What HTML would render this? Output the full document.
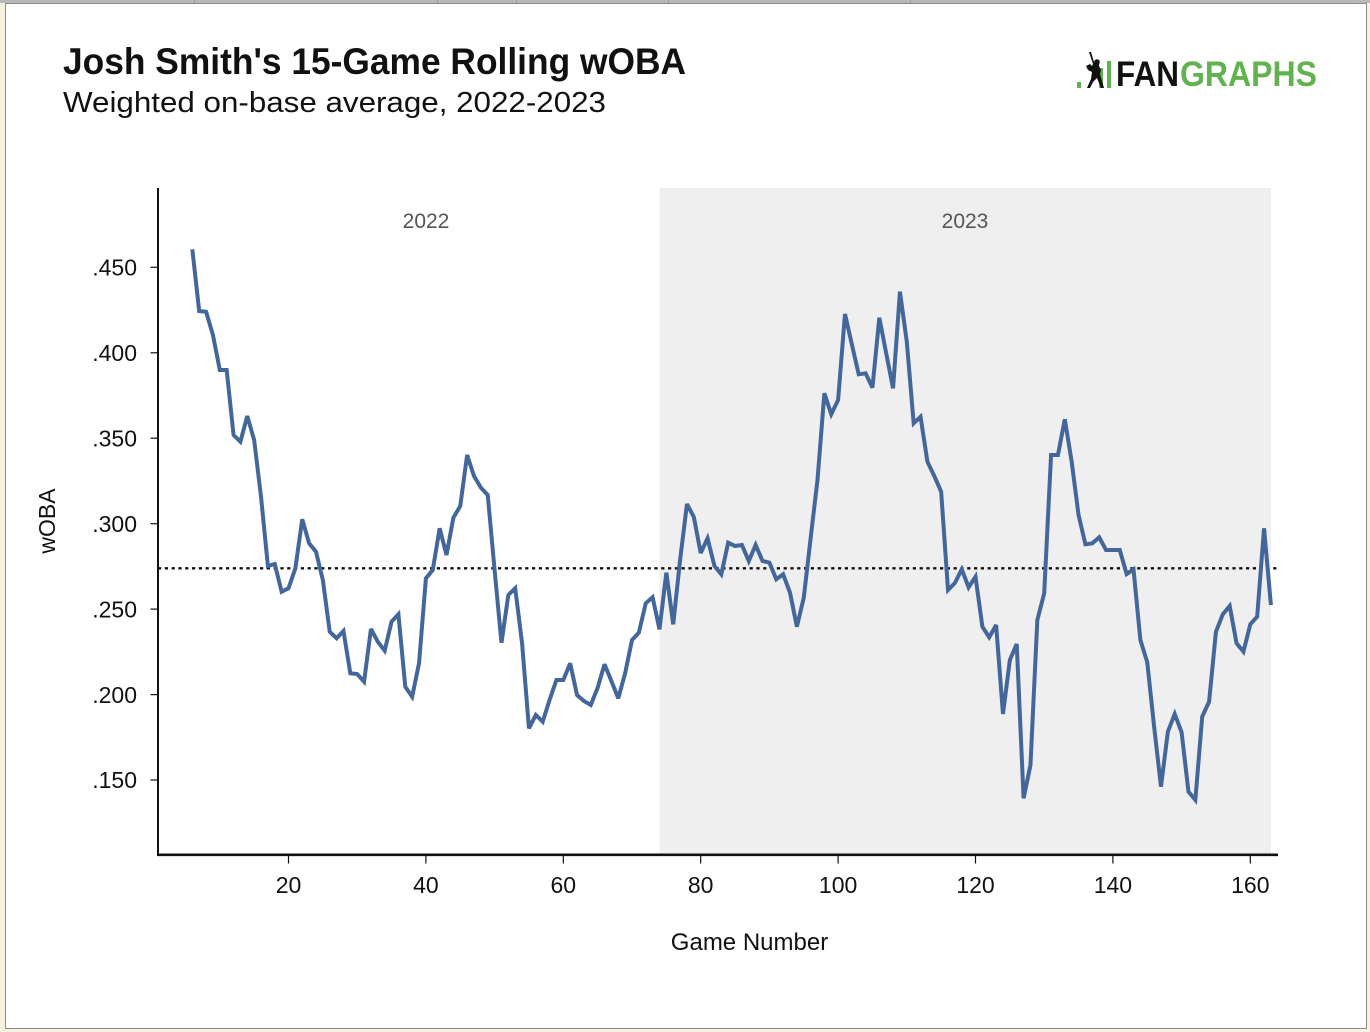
<!DOCTYPE html>
<html><head><meta charset="utf-8">
<style>
html,body{margin:0;padding:0;background:#f6f4de;}
svg{display:block;}
</style></head>
<body>
<svg width="1370" height="1032" viewBox="0 0 1370 1032" xmlns="http://www.w3.org/2000/svg" font-family="'Liberation Sans', sans-serif">
<rect x="0" y="0" width="1370" height="1032" fill="#f6f4de"/>
<rect x="0" y="0" width="1370" height="3" fill="#b8b8b8"/>
<rect x="5.5" y="3.5" width="1361" height="1025" fill="#ffffff" stroke="#8c8c8c" stroke-width="1"/>
<g stroke="#9a9a9a" stroke-width="1">
<line x1="194.5" y1="0" x2="194.5" y2="3"/>
<line x1="437.5" y1="0" x2="437.5" y2="3"/>
<line x1="516.5" y1="0" x2="516.5" y2="3"/>
<line x1="668.5" y1="0" x2="668.5" y2="3"/>
<line x1="910.5" y1="0" x2="910.5" y2="3"/>
</g>

<!-- Title -->
<text x="63" y="74" font-size="37" font-weight="bold" fill="#111" textLength="623" lengthAdjust="spacingAndGlyphs">Josh Smith's 15-Game Rolling wOBA</text>
<text x="63" y="112" font-size="29" fill="#111" textLength="543" lengthAdjust="spacingAndGlyphs">Weighted on-base average, 2022-2023</text>

<!-- Logo -->
<g>
<rect x="1077" y="82" width="4" height="6" fill="#5fb24f"/>
<rect x="1099" y="68" width="4" height="20" fill="#5fb24f"/>
<rect x="1107" y="61" width="4" height="27" fill="#5fb24f"/>
<path d="M1089,52 L1091,52 L1094,62 L1097,61 Q1100,62 1099,66 L1101,70 L1100,74 L1104,88 L1101,88 L1097,78 L1093,82 L1090,88 L1087,88 L1091,79 L1092,72 L1088,70 L1086,66 L1090,64 L1092,66 L1093,64 Z" fill="#111"/>
<circle cx="1097" cy="62" r="2.8" fill="#111"/>
<text x="1116" y="86" font-size="35" font-weight="bold" fill="#111" textLength="63" lengthAdjust="spacingAndGlyphs">FAN</text>
<text x="1180" y="86" font-size="35" font-weight="bold" fill="#62b350" textLength="137" lengthAdjust="spacingAndGlyphs">GRAPHS</text>
</g>

<!-- 2023 shaded region -->
<rect x="659.5" y="188" width="611.5" height="667" fill="#efefef"/>

<text x="426" y="228" font-size="21" fill="#555" text-anchor="middle">2022</text>
<text x="965" y="228" font-size="21" fill="#555" text-anchor="middle">2023</text>

<!-- Dotted average line -->
<line x1="158" y1="568.3" x2="1278" y2="568.3" stroke="#111" stroke-width="2.4" stroke-dasharray="3.2 3.6"/>

<!-- Series -->
<polyline fill="none" stroke="#43679a" stroke-width="4" stroke-linejoin="miter" stroke-miterlimit="3" points="
192.32,249.3 199.19,311 206.06,311.7 212.93,335 219.8,370 226.67,370 233.54,435 240.41,441.7 247.28,416 254.15,440
261.02,496.7 267.89,566 274.76,564 281.63,591.7 288.5,588.3 295.37,568.3 302.24,519.3 309.11,543.3 315.98,551.7 322.85,580
329.72,631.7 336.59,638.3 343.46,631 350.33,673.3 357.2,674 364.07,681.7 370.94,629 377.81,641.7 384.68,650.7 391.55,621.7
398.42,614.3 405.29,686.7 412.16,696.7 419.03,663.3 425.9,578.3 432.77,570 439.64,528.3 446.51,555 453.38,517.7 460.25,506
467.12,455 473.99,476 480.86,487.7 487.73,495 494.6,570 501.47,642.7 508.34,595 515.21,588.3 522.08,643.3 528.95,728.3
535.82,715 542.69,721.7 549.56,700 556.43,680 563.3,680 570.17,663.3 577.04,695 583.91,701 590.78,705 597.65,687.7
604.52,664.3 611.39,681 618.26,698.3 625.13,673.3 632.0,640 638.87,632.7 645.74,603.3 652.61,597.3 659.48,629.3 666.35,572.7
673.22,624.3 680.09,560 686.96,504 693.83,517 700.7,553 707.57,538.3 714.44,566 721.31,574.3 728.18,542.7 735.05,546
741.92,545 748.79,561 755.66,545 762.53,561 769.4,562.7 776.27,579.3 783.14,574.3 790.01,592.7 796.88,626.7 803.75,597.7
810.62,538.3 817.49,480 824.36,393.3 831.23,414.3 838.1,400 844.97,314 851.84,344.3 858.71,374.3 865.58,373.3 872.45,387.7
879.32,317.7 886.19,353.3 893.06,388.3 899.93,291.7 906.8,341.7 913.67,423.3 920.54,416.7 927.41,461.7 934.28,476 941.15,491.7
948.02,590 954.89,583 961.76,569.3 968.63,587.3 975.5,576.7 982.37,626.7 989.24,637.3 996.11,625 1002.98,714 1009.85,660
1016.72,644 1023.59,798.3 1030.46,765 1037.33,620 1044.2,593.3 1051.07,455 1057.94,455 1064.81,419.3 1071.68,461.7 1078.55,515
1085.42,544.3 1092.29,543.3 1099.16,537.3 1106.03,550 1112.9,550 1119.77,550 1126.64,574 1133.51,569.3 1140.38,640 1147.25,662.3
1154.12,726.7 1160.99,786.7 1167.86,731.7 1174.73,714 1181.6,732.3 1188.47,791.7 1195.34,800 1202.21,716.7 1209.08,701.7 1215.95,631.7
1222.82,614.3 1229.69,606 1236.56,643.3 1243.43,651.7 1250.3,624.3 1257.17,616.7 1264.04,528.3 1270.91,605"/>

<!-- Axes -->
<line x1="158" y1="188" x2="158" y2="856" stroke="#111" stroke-width="2"/>
<line x1="157" y1="854.8" x2="1278" y2="854.8" stroke="#111" stroke-width="2.6"/>

<!-- Y ticks -->
<g stroke="#111" stroke-width="1.2">
<line x1="150.5" y1="267.3" x2="158" y2="267.3"/>
<line x1="150.5" y1="352.8" x2="158" y2="352.8"/>
<line x1="150.5" y1="438.2" x2="158" y2="438.2"/>
<line x1="150.5" y1="523.7" x2="158" y2="523.7"/>
<line x1="150.5" y1="609.1" x2="158" y2="609.1"/>
<line x1="150.5" y1="694.6" x2="158" y2="694.6"/>
<line x1="150.5" y1="780" x2="158" y2="780"/>
</g>
<g font-size="23" fill="#111" text-anchor="end">
<text x="137" y="275.5">.450</text>
<text x="137" y="361">.400</text>
<text x="137" y="446.4">.350</text>
<text x="137" y="531.9">.300</text>
<text x="137" y="617.3">.250</text>
<text x="137" y="702.8">.200</text>
<text x="137" y="788.2">.150</text>
</g>

<!-- X ticks -->
<g stroke="#111" stroke-width="1.2">
<line x1="288.5" y1="856" x2="288.5" y2="863.5"/>
<line x1="425.9" y1="856" x2="425.9" y2="863.5"/>
<line x1="563.3" y1="856" x2="563.3" y2="863.5"/>
<line x1="700.7" y1="856" x2="700.7" y2="863.5"/>
<line x1="838.1" y1="856" x2="838.1" y2="863.5"/>
<line x1="975.5" y1="856" x2="975.5" y2="863.5"/>
<line x1="1112.9" y1="856" x2="1112.9" y2="863.5"/>
<line x1="1250.3" y1="856" x2="1250.3" y2="863.5"/>
</g>
<g font-size="23" fill="#111" text-anchor="middle">
<text x="288.5" y="893">20</text>
<text x="425.9" y="893">40</text>
<text x="563.3" y="893">60</text>
<text x="700.7" y="893">80</text>
<text x="838.1" y="893">100</text>
<text x="975.5" y="893">120</text>
<text x="1112.9" y="893">140</text>
<text x="1250.3" y="893">160</text>
</g>

<text x="749.5" y="950" font-size="24" fill="#111" text-anchor="middle">Game Number</text>
<text x="0" y="0" font-size="23" fill="#111" text-anchor="middle" transform="translate(55,521) rotate(-90)">wOBA</text>
</svg>
</body></html>
